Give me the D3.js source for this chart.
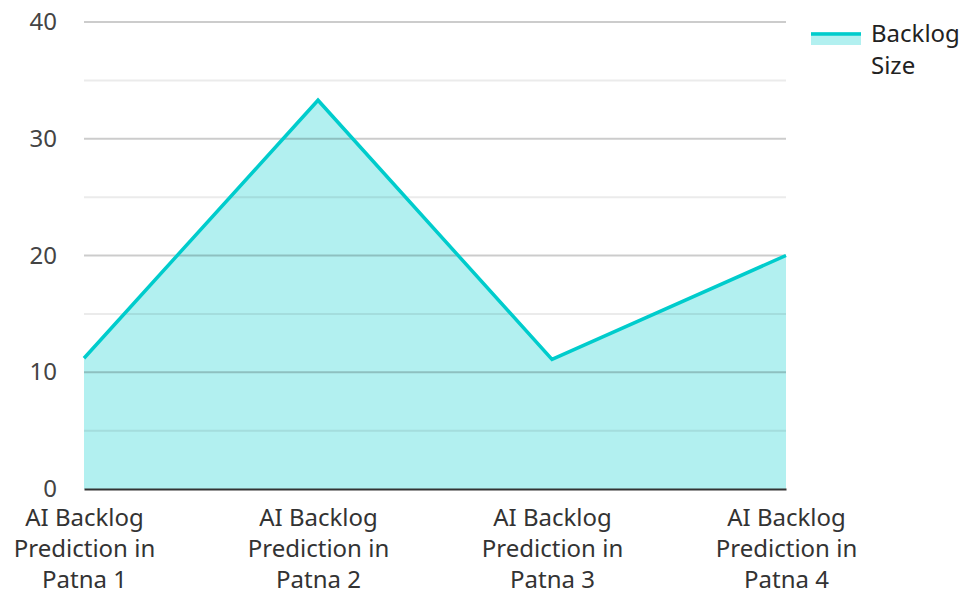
<!DOCTYPE html>
<html><head><meta charset="utf-8">
<script src="https://cdn.jsdelivr.net/npm/d3@7"></script>
<style>body{margin:0;background:#fff;font-family:"Noto Sans",sans-serif;}</style>
</head><body>
<svg id="c" width="965" height="594"></svg>
<script>
const categories = ["AI Backlog Prediction in Patna 1","AI Backlog Prediction in Patna 2","AI Backlog Prediction in Patna 3","AI Backlog Prediction in Patna 4"];
const labelLines = [["AI Backlog","Prediction in","Patna 1"],["AI Backlog","Prediction in","Patna 2"],["AI Backlog","Prediction in","Patna 3"],["AI Backlog","Prediction in","Patna 4"]];
const values = [11.2, 33.3, 11.1, 20.0];
const seriesName = ["Backlog","Size"];
const majorTicks = [0,10,20,30,40];
const minorTicks = [5,15,25,35];

const svg = d3.select("#c");
const m = {l:84, r:179, t:22, b:105};
const W = 965, H = 594;
const x = d3.scalePoint().domain(categories).range([m.l, W-m.r]).padding(0);
const y = d3.scaleLinear().domain([0,40]).range([H-m.b, m.t]);
const FS = 24;

const teal = "#00cccc";
// fill
svg.append("path").datum(values)
  .attr("d", d3.area().x((d,i)=>x(categories[i])).y0(y(0)).y1(d=>y(d)))
  .attr("fill", teal).attr("fill-opacity", 0.3);
// grid
svg.append("g").selectAll("line").data(minorTicks).join("line")
  .attr("x1", m.l).attr("x2", W-m.r).attr("y1", d=>y(d)).attr("y2", d=>y(d))
  .attr("stroke", "#000").attr("stroke-opacity", 0.08).attr("stroke-width", 2);
svg.append("g").selectAll("line").data(majorTicks.filter(d=>d>0)).join("line")
  .attr("x1", m.l).attr("x2", W-m.r).attr("y1", d=>y(d)).attr("y2", d=>y(d))
  .attr("stroke", "#000").attr("stroke-opacity", 0.2).attr("stroke-width", 2);
// line
svg.append("path").datum(values)
  .attr("d", d3.line().x((d,i)=>x(categories[i])).y(d=>y(d)))
  .attr("fill", "none").attr("stroke", teal).attr("stroke-width", 3.5);
// y axis labels
const ya = svg.append("g").attr("transform", `translate(${m.l},0)`)
  .call(d3.axisLeft(y).tickValues(majorTicks).tickSize(0).tickPadding(27));
ya.select(".domain").remove();
ya.selectAll("text").attr("font-family","'Noto Sans',sans-serif").attr("font-size",FS).attr("fill","#444");
// x axis
const xa = svg.append("g").attr("transform", `translate(0,${y(0)})`)
  .call(d3.axisBottom(x).tickSize(0).tickFormat(""));
xa.select(".domain").attr("stroke","#333").attr("stroke-width",2);
xa.selectAll(".tick").each(function(d,i){
  const t = d3.select(this).append("text").attr("fill","#333")
    .attr("font-family","'Noto Sans',sans-serif").attr("font-size",FS).attr("text-anchor","middle");
  labelLines[i].forEach((s,j)=>t.append("tspan").attr("x",0).attr("y",37+j*31).text(s));
});
// legend
const lg = svg.append("g").attr("transform","translate(811,32)");
lg.append("rect").attr("x",0).attr("y",0).attr("width",50).attr("height",13).attr("fill",teal).attr("fill-opacity",0.3);
lg.append("line").attr("x1",0).attr("x2",50).attr("y1",2).attr("y2",2).attr("stroke",teal).attr("stroke-width",3.5);
const lt = lg.append("text").attr("font-family","'Noto Sans',sans-serif").attr("font-size",FS).attr("fill","#222");
seriesName.forEach((s,j)=>lt.append("tspan").attr("x",60).attr("y",10+j*32).text(s));
</script>
</body></html>
